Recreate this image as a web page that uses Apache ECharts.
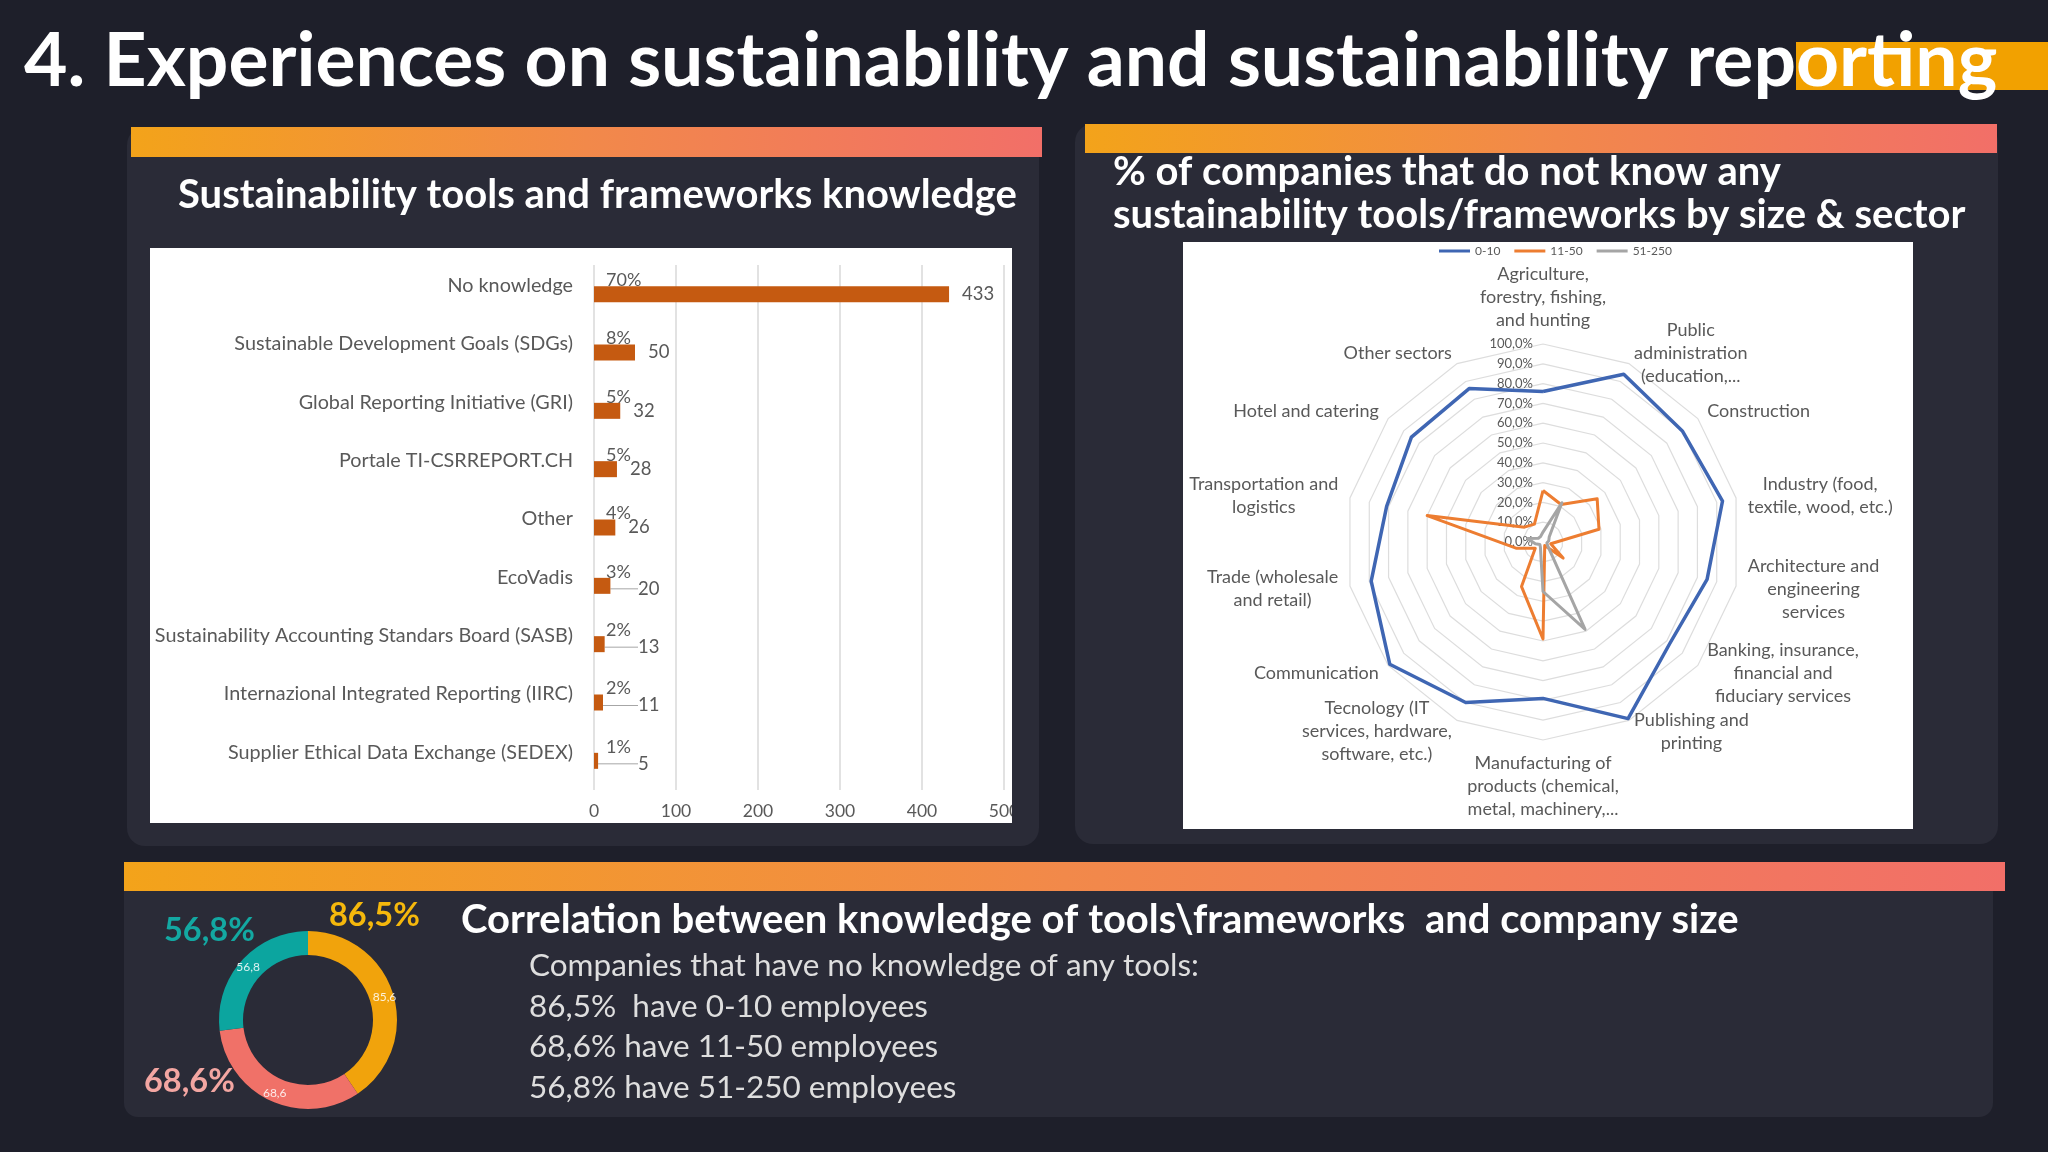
<!DOCTYPE html>
<html>
<head>
<meta charset="utf-8">
<script src="https://cdn.jsdelivr.net/npm/echarts@6.0.0/dist/echarts.min.js"></script>
<style>
html,body{margin:0;padding:0;background:#1e1f2a;}
#c{width:2048px;height:1152px;}
</style>
</head>
<body>
<div id="c"></div>
<script>
// ---------- DATA ----------
const toolCategories = [
  'No knowledge',
  'Sustainable Development Goals (SDGs)',
  'Global Reporting Initiative (GRI)',
  'Portale TI-CSRREPORT.CH',
  'Other',
  'EcoVadis',
  'Sustainability Accounting Standars Board (SASB)',
  'Internazional Integrated Reporting (IIRC)',
  'Supplier Ethical Data Exchange (SEDEX)'
];
const toolCounts = [433, 50, 32, 28, 26, 20, 13, 11, 5];
const toolShares = ['70%', '8%', '5%', '5%', '4%', '3%', '2%', '2%', '1%'];
const countAxisMin = 0, countAxisMax = 500, countAxisStep = 100;

// sectors listed counter-clockwise from the top (ECharts radar order)
const sectors = [
  'Agriculture,\nforestry, fishing,\nand hunting',
  'Other sectors',
  'Hotel and catering',
  'Transportation and\nlogistics',
  'Trade (wholesale\nand retail)',
  'Communication',
  'Tecnology (IT\nservices, hardware,\nsoftware, etc.)',
  'Manufacturing of\nproducts (chemical,\nmetal, machinery,...',
  'Publishing and\nprinting',
  'Banking, insurance,\nfinancial and\nfiduciary services',
  'Architecture and\nengineering\nservices',
  'Industry (food,\ntextile, wood, etc.)',
  'Construction',
  'Public\nadministration\n(education,...'
];
const sizeClasses = ['0-10', '11-50', '51-250'];
const pct0to10   = [76, 86, 85, 81, 89, 99, 90, 79, 99, 82, 85, 93, 90, 94];
const pct11to50  = [26, 10, 12, 60, 14, 5, 25, 49, 2, 13, 4, 29, 35, 21];
const pct51to250 = [5, 3, 3, 8, 4, 2, 3, 25, 49, 3, 2, 3, 4, 22];
const radarMin = 0, radarMax = 100, radarSplits = 10;

const donutNames = ['0-10 employees', '11-50 employees', '51-250 employees'];
const donutValues = [85.6, 68.6, 56.8];
const headlineShares = ['86,5%', '68,6%', '56,8%'];

const slideTitle = '4. Experiences on sustainability and sustainability reporting';
const leftTitle = 'Sustainability tools and frameworks knowledge';
const rightTitle = '% of companies that do not know any\nsustainability tools/frameworks by size & sector';
const bottomTitle = 'Correlation between knowledge of tools\\frameworks  and company size';
const bottomLines = [
  'Companies that have no knowledge of any tools:',
  '86,5%  have 0-10 employees',
  '68,6% have 11-50 employees',
  '56,8% have 51-250 employees'
];

// ---------- STYLE ----------
const FONT = 'Lato, "Open Sans", sans-serif';
const PANEL = '#2a2b37';
const GRAY = '#595959';
const grad = () => ({type:'linear', x:0, y:0, x2:1, y2:0,
  colorStops:[{offset:0,color:'#f3a31a'},{offset:0.5,color:'#f2894a'},{offset:1,color:'#f26f68'}]});
const sizeColors = ['#3f66b3', '#ed7d31', '#a5a5a5'];
const donutColors = ['#f1a30c', '#f07168', '#0ca59f'];
const headlineColors = ['#f5b80c', '#f3a6a2', '#13a8a2'];

const chart = echarts.init(document.getElementById('c'), null, {renderer:'canvas'});

const txt = (x, y, text, font, fill, lh) => ({
  type:'text', x:x, y:y, z:20,
  style:{text:text, font:font, fill:fill, textAlign:'left', textVerticalAlign:'middle', verticalAlign:'middle', lineHeight: lh}
});

const graphics = [
  // panels
  {type:'rect', z:-10, shape:{x:127, y:127, width:912, height:719, r:18}, style:{fill:PANEL}},
  {type:'rect', z:-10, shape:{x:1075, y:124, width:923, height:720, r:18}, style:{fill:PANEL}},
  {type:'rect', z:-10, shape:{x:124, y:870, width:1869, height:247, r:[0,0,14,14]}, style:{fill:PANEL}},
  // gradient bars
  {type:'rect', z:-9, shape:{x:131, y:127, width:911, height:30}, style:{fill:grad()}},
  {type:'rect', z:-9, shape:{x:1085, y:124, width:912, height:29}, style:{fill:grad()}},
  {type:'rect', z:-9, shape:{x:124, y:862, width:1881, height:29}, style:{fill:grad()}},
  // white chart boxes
  {type:'rect', z:-8, shape:{x:150, y:248, width:862, height:575}, style:{fill:'#ffffff'}},
  {type:'rect', z:-8, shape:{x:1183, y:242, width:730, height:587}, style:{fill:'#ffffff'}},
  // title highlight
  {type:'rect', z:-9, shape:{x:1796, y:42, width:252, height:48}, style:{fill:'#f2a100'}},
  // clip the last tick label at the white box edge
  {type:'rect', z:100, shape:{x:1012, y:796, width:26, height:30}, style:{fill:PANEL}},
  // texts
  txt(24, 62, slideTitle, 'bold 75px ' + FONT, '#ffffff'),
  txt(178, 195, leftTitle, 'bold 40px ' + FONT, '#ffffff'),
  txt(1113, 194, rightTitle, 'bold 40px ' + FONT, '#ffffff', 43),
  txt(461, 920, bottomTitle, 'bold 40px ' + FONT, '#ffffff'),
  txt(529, 966, bottomLines[0], '31.5px ' + FONT, '#dedede'),
  txt(529, 1007, bottomLines[1], '31.5px ' + FONT, '#dedede'),
  txt(529, 1047, bottomLines[2], '31.5px ' + FONT, '#dedede'),
  txt(529, 1088, bottomLines[3], '31.5px ' + FONT, '#dedede'),
  txt(329, 916, headlineShares[0], 'bold 32.5px ' + FONT, headlineColors[0]),
  txt(144, 1082, headlineShares[1], 'bold 32.5px ' + FONT, headlineColors[1]),
  txt(164, 931, headlineShares[2], 'bold 32.5px ' + FONT, headlineColors[2])
];

const option = {
  backgroundColor: '#1e1f2a',
  animation: false,
  textStyle: {fontFamily: FONT},
  graphic: {elements: graphics},
  legend: {
    data: sizeClasses, left: 1434, top: 240, icon: 'rect', itemWidth: 31, itemHeight: 3, itemGap: 14,
    textStyle: {color: GRAY, fontSize: 12, fontFamily: FONT}, selectedMode: false
  },
  grid: {left: 594, top: 265, width: 410, height: 525, containLabel: false},
  xAxis: {
    type: 'value', min: countAxisMin, max: countAxisMax, interval: countAxisStep,
    axisLine: {show: false}, axisTick: {show: false},
    splitLine: {lineStyle: {color: '#d9d9d9', width: 1.5}},
    axisLabel: {color: GRAY, fontSize: 17.5, margin: 12, fontFamily: FONT}
  },
  yAxis: {
    type: 'category', data: toolCategories, inverse: true,
    axisLine: {show: false}, axisTick: {show: false},
    axisLabel: {color: GRAY, fontSize: 19.8, margin: 21, fontFamily: FONT, verticalAlign: 'bottom', lineHeight: 17}
  },
  radar: {
    center: [1543, 542], radius: 198, startAngle: 90, shape: 'polygon', splitNumber: radarSplits,
    nameGap: 12,
    indicator: sectors.map((s, i) => {
      const ind = {name: s, min: radarMin, max: radarMax};
      if (i === 0) {
        ind.axisLabel = {show: true, color: GRAY, fontSize: 13, margin: 10, fontFamily: FONT,
          formatter: v => Number(v).toFixed(1).replace('.', ',') + '%'};
      }
      return ind;
    }),
    axisName: {
      color: GRAY, fontSize: 18, fontFamily: FONT,
      formatter: n => n.split('\n').map(l => '{c|' + l + '}').join('\n'),
      rich: {c: {align: 'center', color: GRAY, fontSize: 18, fontFamily: FONT, lineHeight: 23}}
    },
    axisLine: {show: false}, axisTick: {show: false}, axisLabel: {show: false},
    splitLine: {lineStyle: {color: '#dddddd', width: 1.2}},
    splitArea: {show: false}
  },
  series: [
    {
      type: 'bar', barWidth: 16, z: 3,
      data: toolCounts.map(v => ({value: v, labelLine: {show: v < 25}})),
      itemStyle: {color: '#c55a11'},
      label: {show: true, position: 'right', distance: 13, offset: [0, 2], color: GRAY, fontSize: 18.5, fontFamily: FONT},
      labelLayout: function (p) {
        if (p.labelRect.x < 626) {
          return {x: 638, y: p.rect.y + p.rect.height / 2 + 3, align: 'left', verticalAlign: 'middle'};
        }
        return {};
      },
      labelLine: {show: false, lineStyle: {color: '#a6a6a6', width: 1}},
      emphasis: {disabled: true}, silent: true
    },
    {
      type: 'bar', data: toolCounts, barWidth: 16, barGap: '-100%', z: 4, silent: true,
      itemStyle: {color: 'rgba(0,0,0,0)'},
      label: {show: true, position: [12, 3], align: 'left', verticalAlign: 'bottom',
        formatter: p => toolShares[p.dataIndex], color: GRAY, fontSize: 18, fontFamily: FONT},
      emphasis: {disabled: true}
    },
    {
      type: 'radar', symbol: 'none', silent: true,
      data: [
        {name: sizeClasses[0], value: pct0to10, lineStyle: {color: sizeColors[0], width: 3.5}, itemStyle: {color: sizeColors[0]}},
        {name: sizeClasses[1], value: pct11to50, lineStyle: {color: sizeColors[1], width: 3}, itemStyle: {color: sizeColors[1]}},
        {name: sizeClasses[2], value: pct51to250, lineStyle: {color: sizeColors[2], width: 3}, itemStyle: {color: sizeColors[2]}}
      ]
    },
    {
      type: 'pie', center: [308, 1020], radius: [65, 89], startAngle: 90, clockwise: true,
      silent: true, avoidLabelOverlap: false,
      data: donutNames.map((n, i) => ({name: n, value: donutValues[i], itemStyle: {color: donutColors[i]}})),
      label: {show: true, position: 'inside', color: 'rgba(255,255,255,0.85)', fontSize: 12, fontFamily: FONT,
        formatter: p => String(p.value).replace('.', ',')},
      labelLine: {show: false},
      emphasis: {disabled: true}
    }
  ]
};
chart.setOption(option);
</script>
</body>
</html>
